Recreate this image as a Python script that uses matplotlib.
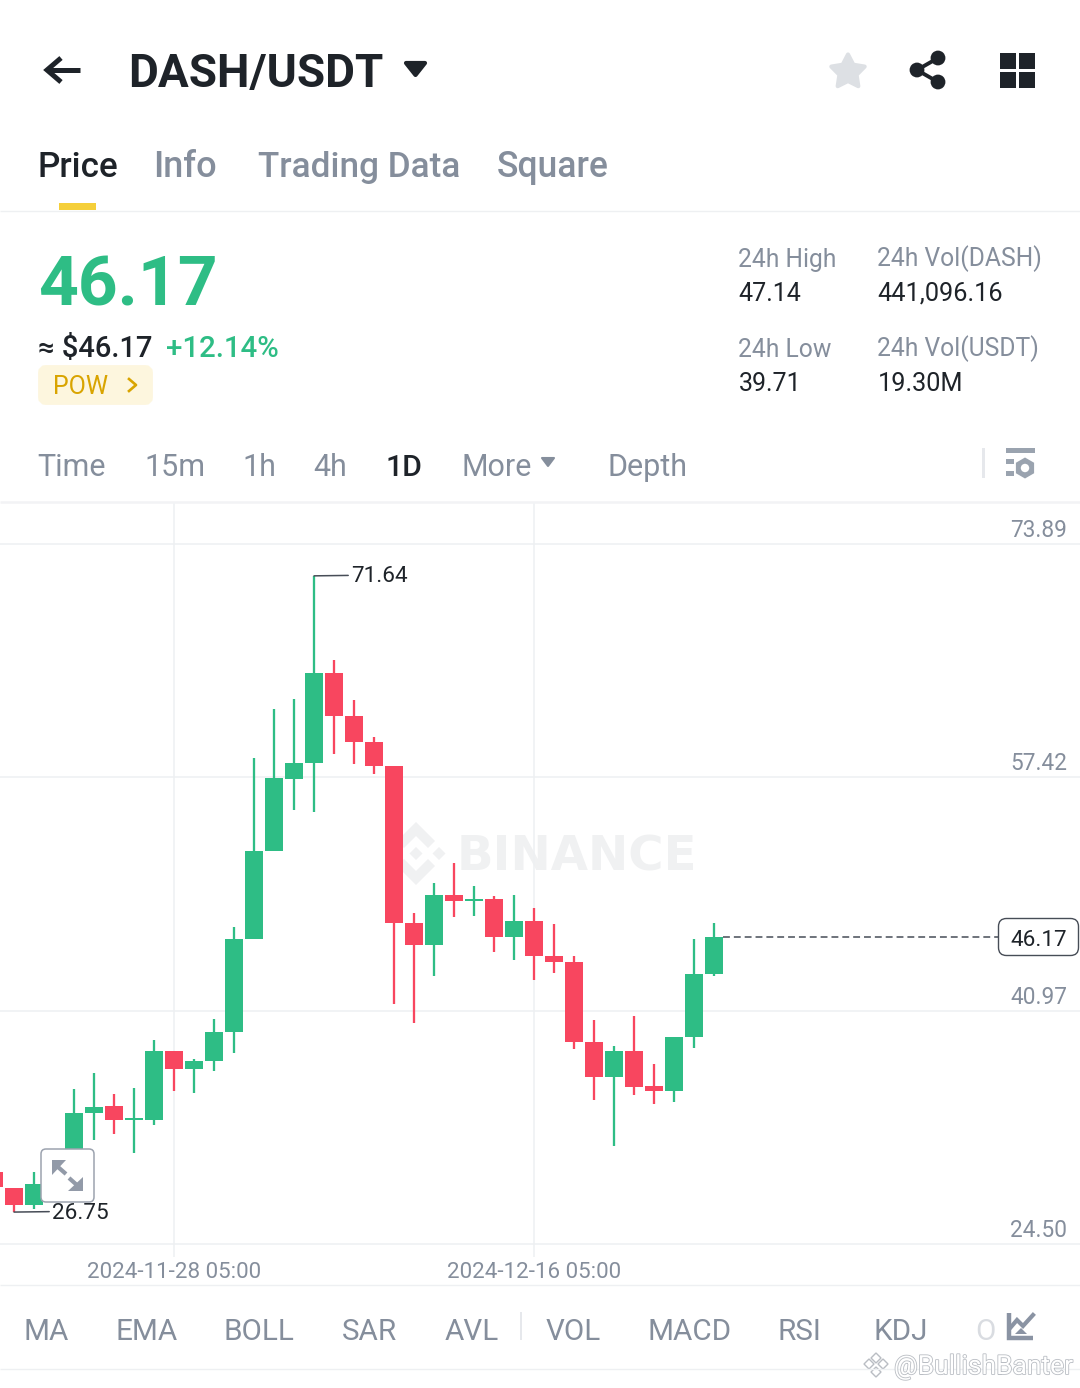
import matplotlib
matplotlib.use("Agg")
import matplotlib.pyplot as plt
import matplotlib.dates as mdates
import matplotlib.patheffects as pe
from matplotlib.patches import Polygon, Circle, Rectangle, FancyBboxPatch
import numpy as np
import pandas as pd

plt.rcParams['font.family'] = ['Roboto', 'DejaVu Sans']

# ---- data -------------------------------------------------------------
dates = pd.date_range('2024-11-19 05:00', '2024-12-25 05:00', freq='D')
opens = [29.58, 28.45, 27.25, 28.73, 30.43, 33.74, 34.24, 33.25, 33.25, 38.12,
         36.85, 37.41, 39.46, 46.02, 52.23, 57.31, 58.44, 64.79, 61.75, 59.92,
         58.23, 47.15, 45.60, 49.12, 48.70, 48.84, 46.16, 47.29, 44.82, 44.40,
         38.75, 36.28, 38.12, 35.65, 35.30, 39.10, 43.55]
closes = [28.52, 27.25, 28.73, 30.43, 33.74, 34.17, 33.25, 33.39, 38.12, 36.85,
          37.41, 39.46, 46.02, 52.23, 57.38, 58.44, 64.79, 61.75, 59.92, 58.23,
          47.15, 45.60, 49.12, 48.70, 48.84, 46.16, 47.29, 44.82, 44.40, 38.75,
          36.28, 38.12, 35.58, 35.30, 39.10, 43.55, 46.17]
highs = [29.58, 28.45, 29.58, 30.92, 35.44, 36.57, 35.08, 35.51, 38.89, 38.12,
         37.55, 40.38, 46.87, 58.79, 62.25, 62.95, 71.64, 65.71, 62.88, 60.27,
         58.23, 47.85, 49.97, 51.38, 49.76, 49.05, 49.12, 48.21, 47.08, 44.82,
         40.30, 38.47, 40.59, 37.20, 39.10, 46.02, 47.14]
lows = [28.52, 26.75, 26.97, 28.31, 30.07, 31.84, 32.26, 30.92, 32.90, 35.30,
        35.15, 36.71, 37.98, 46.02, 52.23, 55.12, 54.98, 59.07, 58.37, 57.66,
        41.43, 40.09, 43.41, 47.57, 47.64, 45.10, 44.54, 43.13, 43.62, 38.26,
        34.66, 31.41, 35.01, 34.38, 34.52, 38.33, 43.41]
price_ticks = [24.50, 40.97, 57.42, 73.89]
price_labels = ['24.50', '40.97', '57.42', '73.89']
date_ticks = ['2024-11-28 05:00', '2024-12-16 05:00']
last_price = 46.17
period_high = 71.64
period_low = 26.75

# ---- colours ----------------------------------------------------------
GREEN = '#2EBD85'
RED = '#F8465F'
DARK = '#1E2329'
GRAY = '#858E9C'
LINE = '#EEF0F2'

W, H = 1080, 1388
fig = plt.figure(figsize=(W / 100, H / 100), dpi=100, facecolor='white')


def px_axes(z):
    a = fig.add_axes([0, 0, 1, 1], zorder=z, facecolor='none')
    a.set_xlim(0, W)
    a.set_ylim(H, 0)
    a.axis('off')
    return a


bg = px_axes(0)
fg = px_axes(3)

# ---- chart axes -------------------------------------------------------
top_px, bot_px = 503, 1257
ax = fig.add_axes([0, 1 - bot_px / H, 1, (bot_px - top_px) / H], zorder=1, facecolor='none')
x = mdates.date2num(dates)
day_px = 20.0
x_left = x[0] + 6 / day_px
ax.set_xlim(x_left, x_left + W / day_px)
ax.set_ylim(23.58, 76.78)
for s in ax.spines.values():
    s.set_visible(False)

ax.yaxis.tick_right()
ax.set_yticks(price_ticks, price_labels)
ax.tick_params(axis='y', length=0, pad=-9.4, labelsize=16.3, labelcolor=GRAY, direction='in')
for lab in ax.get_yticklabels():
    lab.set_ha('right')
    lab.set_va('bottom')
    lab.set_transform(lab.get_transform() + matplotlib.transforms.ScaledTranslation(0, 2 / 100, fig.dpi_scale_trans))
ax.set_xticks(mdates.date2num(pd.to_datetime(date_ticks)), date_ticks)
ax.tick_params(axis='x', length=0, pad=3.3, labelsize=16.1, labelcolor=GRAY)
ax.grid(True, color=LINE, lw=1.1)
ax.set_axisbelow(True)

colors = [GREEN if c >= o else RED for o, c in zip(opens, closes)]
ax.vlines(x, lows, highs, colors=colors, lw=1.65, zorder=3)
ax.bar(x, np.array(closes) - np.array(opens), bottom=opens, width=0.9, color=colors,
       zorder=4, linewidth=0)

# last-price dashed line
x_end = x_left + 998 / day_px
ax.hlines(last_price, x[-1] + 0.45, x_end, colors='#474D57', lw=1.1, linestyles=(0, (4.5, 2.6)), zorder=3)

# extremes
anno = dict(fontsize=16.2, color=DARK, va='center', ha='left', textcoords='offset pixels', zorder=5,
            arrowprops=dict(arrowstyle='-', color='#474D57', lw=1.1, shrinkA=0, shrinkB=0, relpos=(0, 0.57)))
ax.annotate(f'{period_high:.2f}', xy=(x[16], period_high), xytext=(37, -1), **anno)
ax.annotate(f'{period_low:.2f}', xy=(x[1], period_low), xytext=(38, -1), **anno)

# ---- background watermark ---------------------------------------------
WM = '#F0F1F2'
bg.text(457, 870, 'BINANCE', fontsize=34.7, fontweight='bold', color=WM, va='baseline', ha='left',
        family='DejaVu Sans')
for cx in (416, 439, 393):
    bg.add_patch(Polygon([(cx, 847), (cx + 6.5, 853.5), (cx, 860), (cx - 6.5, 853.5)], color=WM, lw=0))
bg.add_patch(Polygon([(416, 822), (435, 841), (428, 848), (416, 836), (404, 848), (397, 841)], color=WM, lw=0))
bg.add_patch(Polygon([(416, 885), (435, 866), (428, 859), (416, 871), (404, 859), (397, 866)], color=WM, lw=0))


# ---- text helper ------------------------------------------------------
def T(px, py, s, size, color=GRAY, weight='normal', **kw):
    return fg.text(px, py, s, fontsize=size, color=color, fontweight=weight, va='baseline', ha='left', **kw)


def hline(y, x0=0, x1=W, color=LINE, lw=1.0):
    fg.plot([x0, x1], [y, y], color=color, lw=lw, solid_capstyle='butt')


# header
fg.plot([47, 80], [70, 70], color=DARK, lw=3.6, solid_capstyle='butt')
fg.plot([61, 47, 61], [58, 70, 82], color=DARK, lw=3.6, solid_joinstyle='miter', solid_capstyle='butt')
T(128.5, 87, 'DASH/USDT', 33, DARK, 'bold')
fg.add_patch(Polygon([(406, 63), (425, 63), (415.5, 75)], color=DARK, lw=3, joinstyle='round'))

# star
ang = np.deg2rad(np.arange(-90, 270, 36))
rad = np.array([17.5, 9] * 5)
fg.add_patch(Polygon(np.c_[848 + rad * np.cos(ang), 72 + rad * np.sin(ang)], color='#DDE0E4', lw=3, joinstyle='round'))
# share
for cx, cy in ((938, 58), (917, 70), (938, 82)):
    fg.add_patch(Circle((cx, cy), 7.4, color=DARK, lw=0))
fg.plot([938, 917, 938], [58, 70, 82], color=DARK, lw=2.8)
# grid icon
for gx in (1000, 1019):
    for gy in (53, 72):
        fg.add_patch(Rectangle((gx, gy), 15.5, 15.5, color=DARK, lw=0))

# tabs
T(37.5, 177, 'Price', 25.2, DARK, 'medium')
T(153.5, 177, 'Info', 26, GRAY, 'medium')
T(258, 177, 'Trading Data', 25.3, GRAY, 'medium')
T(497, 177, 'Square', 25.6, GRAY, 'medium')
fg.add_patch(Rectangle((59, 203), 37, 7, color='#F5CF3A', lw=0))
hline(210.5)

# price block
T(38, 305, '46.17', 50, GREEN, 'bold')
T(38, 357, '≈ $46.17', 21, DARK, 'medium')
T(166, 357, '+12.14%', 21.2, GREEN, 'medium')
fg.add_patch(FancyBboxPatch((44, 371), 103, 28, boxstyle='round,pad=0,rounding_size=2', mutation_aspect=1,
                            fc='#FDF6DE', ec='#FDF6DE', lw=8.5))
T(53, 394, 'POW', 18, '#D9A400')
fg.plot([129, 136, 129], [379, 385, 391], color='#D9A400', lw=1.9)

# stats
T(738, 267, '24h High', 17.7, GRAY)
T(738.5, 301, '47.14', 18, DARK)
T(738, 357, '24h Low', 17.7, GRAY)
T(738.5, 391, '39.71', 18, DARK)
T(877, 266, '24h Vol(DASH)', 17.7, GRAY)
T(877.5, 300, '441,096.16', 18.2, DARK)
T(877, 356, '24h Vol(USDT)', 17.7, GRAY)
T(877.5, 390.5, '19.30M', 18.2, DARK)

# timeframe row
for tx, s in ((37, 'Time'), (144, '15m'), (242, '1h'), (313, '4h'), (461, 'More'), (607, 'Depth')):
    T(tx, 476, s, 22, GRAY)
T(386, 476, '1D', 21.8, DARK, 'medium')
fg.add_patch(Polygon([(542, 458), (554, 458), (548, 466)], color=GRAY, lw=1.5, joinstyle='round'))
fg.add_patch(Rectangle((982, 448), 2.6, 30, color='#E6E8EC', lw=0))
ICON = '#9AA3AF'
fg.add_patch(Rectangle((1006, 448), 29, 5, color=ICON, lw=0))
fg.add_patch(Rectangle((1006, 459), 8, 5, color=ICON, lw=0))
fg.add_patch(Rectangle((1006, 471), 8, 5, color=ICON, lw=0))
hx = np.deg2rad(np.arange(-90, 270, 60))
fg.add_patch(Polygon(np.c_[1025 + 10.5 * np.cos(hx), 468 + 10.5 * np.sin(hx)], color=ICON, lw=0))
fg.add_patch(Circle((1025, 468), 4.2, color='white', lw=0))
hline(501.5, color='#F2F3F5', lw=1.8)

# expand button
fg.add_patch(FancyBboxPatch((41, 1149), 53, 53, boxstyle='round,pad=0,rounding_size=5', fc='white', ec='#9CA3AF', lw=1.1, zorder=6))
BTN = '#929AA8'
fg.plot([58, 66], [1167, 1174], color=BTN, lw=3.0, zorder=7, solid_capstyle='butt')
fg.plot([69, 78], [1178, 1186], color=BTN, lw=3.0, zorder=7, solid_capstyle='butt')
fg.add_patch(Polygon([(52, 1160), (66, 1160), (52, 1175)], color=BTN, lw=0, zorder=7))
fg.add_patch(Polygon([(83, 1191), (83, 1177), (68, 1191)], color=BTN, lw=0, zorder=7))

# last price box
fg.add_patch(FancyBboxPatch((998.5, 918.5), 80, 37, boxstyle='round,pad=0,rounding_size=8', fc='white', ec='#474D57', lw=1.0))
fg.text(1039, 940.5, f'{last_price:.2f}', fontsize=16.2, color=DARK, ha='center', va='center')

# bottom row
hline(1284.5)
hline(1368.5)
for tx, s in ((23.5, 'MA'), (115, 'EMA'), (223, 'BOLL'), (341.5, 'SAR'), (445, 'AVL'), (545.5, 'VOL'),
              (648, 'MACD'), (777.5, 'RSI'), (874, 'KDJ')):
    T(tx, 1340, s, 21.3, GRAY)
T(975, 1340, 'O', 21.3, '#D9DCE1')
fg.add_patch(Rectangle((520, 1312), 1.5, 28, color='#E6E8EC', lw=0))
fg.plot([1009, 1009, 1033], [1313, 1338, 1338], color='#8A93A3', lw=3.2, solid_joinstyle='miter', solid_capstyle='butt')
fg.plot([1011, 1017, 1023, 1033], [1327, 1320, 1326, 1315], color='#8A93A3', lw=3.0, solid_joinstyle='miter')
fg.add_patch(Polygon([(1021, 1328), (1027, 1334), (1015, 1334)], color='#8A93A3', lw=0))

# source watermark
stroke = [pe.withStroke(linewidth=1.2, foreground='#B9BDC3')]
T(894, 1374, '@BullishBanter', 19, 'white', path_effects=stroke)
for cx, cy in ((869, 1364), (883, 1364), (876, 1372), (876, 1358)):
    fg.add_patch(Polygon([(cx, cy - 5), (cx + 5, cy), (cx, cy + 5), (cx - 5, cy)], fc='white', ec='#B9BDC3', lw=1.0))

fig.savefig('out.png', dpi=100, facecolor='white')
